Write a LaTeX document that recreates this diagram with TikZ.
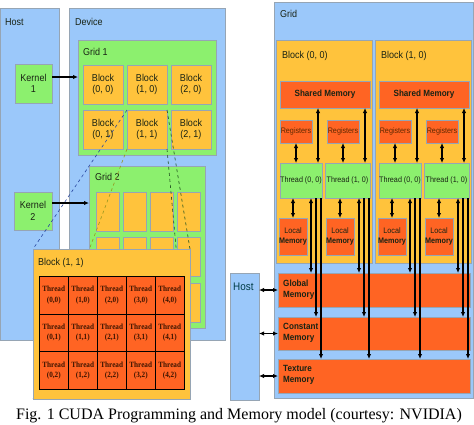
\documentclass[tikz,border=0pt]{standalone}
\usepackage{fontspec}
\setmainfont{Liberation Serif}
\newfontfamily\labfont[FakeStretch=0.9]{Liberation Sans}
\newfontfamily\cellfont[FakeStretch=0.9]{Liberation Serif}
\usetikzlibrary{arrows.meta}
\definecolor{cublue}{RGB}{155,200,250}
\definecolor{cugreen}{RGB}{140,240,110}
\definecolor{cuorange}{RGB}{255,195,60}
\definecolor{cured}{RGB}{255,100,35}
\definecolor{cuedge}{RGB}{150,165,180}
\definecolor{cutext}{RGB}{25,35,20}
\definecolor{cellink}{RGB}{60,20,0}
\definecolor{regink}{RGB}{95,40,0}
\definecolor{hostink}{RGB}{0,60,70}
\definecolor{zoomblue}{RGB}{40,70,160}
\definecolor{zoomolive}{RGB}{150,150,30}
\definecolor{zoomgreen}{RGB}{30,80,30}
\tikzset{
  box/.style={draw=cuedge, line width=.6pt, anchor=north west, inner sep=0pt, outer sep=0pt,
    align=center, text=cutext, font=\labfont\fontsize{10}{11.5}\selectfont},
  bluebox/.style={box, fill=cublue},
  greenbox/.style={box, fill=cugreen},
  orangebox/.style={box, fill=cuorange},
  redbox/.style={box, fill=cured},
  lbl/.style={anchor=north west, inner sep=0pt, text=cutext, align=left,
    font=\labfont\fontsize{10}{11.5}\selectfont},
  small/.style={font=\labfont\fontsize{8}{9.5}\selectfont},
  memlbl/.style={lbl, font=\labfont\bfseries\fontsize{9}{11}\selectfont},
  cell/.style={draw=black, line width=.5pt, fill=cured, anchor=north west, inner sep=0pt,
    minimum width=29pt, minimum height=37.67pt, align=center, text=cellink,
    font=\cellfont\bfseries\fontsize{8}{10.5}\selectfont},
  ctip/.tip={Latex[length=5pt,width=4.5pt]},
  arr/.style={-ctip, line width=1.3pt},
  darr/.style={ctip-ctip, line width=1.3pt},
  uarr/.style={ctip-, line width=1.1pt},
  zoomline/.style={dashed, line width=.6pt},
}
\begin{document}
\begin{tikzpicture}[x=1pt,y=-1pt]
\useasboundingbox (0,0) rectangle (474,424);
% programming model
\node[bluebox, minimum width=59pt, minimum height=332pt] (hostL) at (0,8) {};
\node[lbl] at (5,18) {Host};
\node[bluebox, minimum width=156pt, minimum height=332pt] (device) at (69,8) {};
\node[lbl] at (75,18) {Device};
\node[greenbox, minimum width=37pt, minimum height=39pt] (k1) at (15,64) {Kernel\\1};
\node[greenbox, minimum width=38pt, minimum height=38pt] (k2) at (14,192) {Kernel\\2};
\node[greenbox, minimum width=138pt, minimum height=115pt] (grid1) at (78,40) {};
\node[lbl] at (83,48) {Grid 1};
\foreach \i in {0,1,2} \foreach \j in {0,1}
  \node[orangebox, minimum width=40pt, minimum height=39pt] (b\i\j) at ({83+44*\i},{65+45*\j}) {Block\\(\i, \j)};
\node[greenbox, minimum width=116pt, minimum height=162pt] (grid2) at (89,166) {};
\node[lbl] at (95,173) {Grid 2};
\foreach \i in {0,...,3} \foreach \j in {0,1,2}
  \node[orangebox, minimum width=23pt, minimum height=39pt] (s\i\j) at ({96+27*\i},{192+45.5*\j}) {};
\draw[arr] ([yshift=6.5pt]k1.east) -- ([yshift=6.5pt]k1.east -| grid1.west);
\draw[arr] ([yshift=8pt]k2.east) -- ([yshift=8pt]k2.east -| grid2.west);

% zoom onto block (1,1)
\coordinate (bbnw) at (33,249);
\coordinate (bbse) at (190,399);
\draw[zoomline, zoomblue] (b11.north west) -- (bbnw);
\draw[zoomline, zoomolive] (b11.south west) -- (bbnw |- bbse);
\draw[zoomline, zoomgreen] (b11.north east) -- (bbse |- bbnw);
\draw[zoomline, zoomgreen] (b11.south east) -- (bbse);
\node[orangebox, minimum width=157pt, minimum height=150pt] (bb) at (bbnw) {};
\node[lbl] at (38,258) {Block (1, 1)};
\foreach \i in {0,...,4} \foreach \j in {0,1,2}
  \node[cell] (c\i\j) at ({39+29*\i},{276+37.67*\j}) {Thread\\(\i,\j)};
\draw[line width=.8pt] (c00.north west) rectangle (c42.south east);

% memory model
\node[bluebox, minimum width=199pt, minimum height=396pt] (grid) at (274,2) {};
\node[lbl] at (280,10) {Grid};
\node[redbox, minimum width=192pt, minimum height=34pt] (global) at (278,273) {};
\node[redbox, minimum width=192pt, minimum height=33pt] (const) at (278,317) {};
\node[redbox, minimum width=192pt, minimum height=34pt] (tex) at (278,359) {};
\node[memlbl] at (283,280) {Global\\Memory};
\node[memlbl] at (283,323) {Constant\\Memory};
\node[memlbl] at (283,365) {Texture\\Memory};
\node[bluebox, minimum width=29pt, minimum height=127pt] (hostR) at (230,273) {};
\node[lbl, text=hostink, font=\labfont\fontsize{11}{12}\selectfont] at (233,283) {Host};
\foreach \m in {global,const,tex}
  \draw[darr] (hostR.east |- \m.west) -- (\m.west);

\foreach \b/\bx in {0/276,1/375} {
  \node[orangebox, minimum width=96pt, minimum height=223pt] (blk\b) at (\bx,40) {};
  \node[lbl] at (\bx+6,51) {Block (\b, 0)};
  \node[redbox, minimum width=90pt, minimum height=27pt,
    font=\labfont\bfseries\fontsize{9}{10}\selectfont] (sm\b) at (\bx+4,81) {Shared Memory};
  \foreach \t/\rx/\tx/\tw in {0/4/4/42pt,1/51/49/45pt} {
    \node[redbox, small, text=regink, minimum width=32pt, minimum height=23pt] (r\b\t) at (\bx+\rx,120) {Registers};
    \node[greenbox, small, minimum width=\tw, minimum height=35pt] (t\b\t) at (\bx+\tx,163) {Thread (\t, 0)};
    \node[redbox, small, minimum width=28pt, minimum height=37pt] (l\b\t) at (\bx+\rx-1,218) {Local\\\textbf{Memory}};
    \draw[darr] (r\b\t.south) -- (r\b\t.south |- t\b\t.north);
    \draw[darr] ([xshift=6pt]r\b\t.south east |- sm\b.south) -- ([xshift=6pt]r\b\t.south east |- t\b\t.north);
    \draw[darr] (l\b\t.north) -- (l\b\t.north |- t\b\t.south);
    \draw[darr, line width=1.1pt] ([xshift=-11pt]t\b\t.south east) -- ([xshift=-11pt]t\b\t.south east |- global.north);
    \draw[uarr] ([xshift=-6pt]t\b\t.south east |- const.north) -- ([xshift=-6pt]t\b\t.south east);
    \draw[uarr] ([xshift=-1pt]t\b\t.south east |- tex.north) -- ([xshift=-1pt]t\b\t.south east);
  }
}

\node[anchor=base, inner sep=0pt, font=\fontsize{16}{18}\selectfont] (caption) at (239,419.5)
  {Fig. 1 CUDA Programming and Memory model (courtesy: NVIDIA)};
\end{tikzpicture}
\end{document}
